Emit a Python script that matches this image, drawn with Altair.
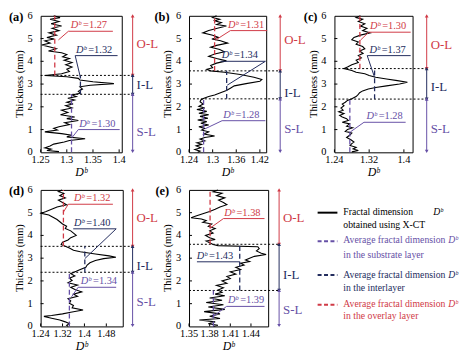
import altair as alt
import pandas as pd

FONT = "Liberation Serif"
RED = "#d03a46"
NAVY = "#232d5e"
PURPLE = "#6650a6"
LAYERS = ["O-L", "I-L", "S-L"]
Y_TICKS = [0, 1, 2, 3, 4, 5, 6]
Y_TICK_LABELS = ["0", "1", "2", "3", "4", "5", "6"]

# ---------------- panel (a) ----------------
A_T = [6.0,5.92,5.85,5.75,5.65,5.55,5.45,5.35,5.25,5.15,5.05,4.98,4.9,4.8,4.72,4.62,4.55,4.45,4.38,4.3,
       4.2,4.12,4.05,3.95,3.85,3.75,3.65,3.55,3.45,3.38,3.32,3.25,3.18,3.1,3.02,2.95,2.88,2.78,2.68,2.6,
       2.52,2.45,2.38,2.3,2.2,2.12,2.05,1.95,1.85,1.75,1.65,1.55,1.48,1.4,1.3,1.22,1.12,1.05,0.98,0.9,
       0.82,0.75,0.68,0.6,0.52,0.45,0.36,0.28,0.2,0.14,0.08,0.03]
A_D = [1.275,1.287,1.268,1.285,1.27,1.29,1.272,1.285,1.266,1.28,1.262,1.276,1.258,1.268,1.252,1.27,1.28,1.265,1.29,1.30,
       1.292,1.305,1.295,1.31,1.298,1.31,1.30,1.305,1.29,1.258,1.30,1.322,1.325,1.35,1.39,1.345,1.325,1.33,1.322,1.326,
       1.31,1.318,1.302,1.315,1.30,1.312,1.298,1.31,1.29,1.302,1.288,1.315,1.30,1.322,1.296,1.305,1.285,1.275,1.282,1.258,
       1.29,1.31,1.30,1.335,1.305,1.295,1.275,1.268,1.258,1.27,1.262,1.285]
A_TICKS = [1.25, 1.3, 1.35, 1.4]
A_TICK_LABELS = ["1.25", "1.3", "1.35", "1.4"]
A_BOUNDS = [3.38, 2.55]
A_MEANS = [1.277, 1.326, 1.309]
A_LAB_TEXT = ["=1.27", "=1.32", "=1.30"]
A_LAB_X = [1.331, 1.341, 1.347]
A_LAB_T = [5.32, 4.25, 1.00]
A_UL_X1 = [1.303, 1.316, 1.322]
A_UL_X2 = [1.388, 1.397, 1.401]
A_LEAD = [[1.303, 5.32, 1.284, 4.94], [1.316, 4.25, 1.326, 3.29], [1.322, 1.00, 1.309, 0.62]]
A_ZONE_T = [4.78, 2.95, 0.90]

# ---------------- panel (b) ----------------
B_T = [6.0,5.92,5.85,5.78,5.7,5.62,5.55,5.45,5.35,5.25,5.15,5.05,4.98,4.9,4.8,4.7,4.62,4.52,4.42,4.32,
       4.22,4.12,4.02,3.92,3.82,3.72,3.65,3.58,3.52,3.42,3.3,3.2,3.12,3.02,2.92,2.82,2.72,2.62,2.52,2.45,
       2.38,2.3,2.22,2.12,2.02,1.95,1.88,1.8,1.72,1.65,1.58,1.5,1.42,1.35,1.28,1.2,1.12,1.05,0.98,0.9,
       0.8,0.72,0.65,0.58,0.5,0.42,0.35,0.28,0.2,0.12,0.05,0.0]
B_D = [1.31,1.30,1.318,1.305,1.322,1.31,1.335,1.312,1.29,1.275,1.30,1.315,1.298,1.32,1.338,1.31,1.295,1.318,1.33,1.305,
       1.29,1.31,1.335,1.31,1.295,1.30,1.285,1.295,1.33,1.37,1.405,1.425,1.42,1.385,1.355,1.345,1.335,1.32,1.305,1.29,
       1.278,1.27,1.268,1.276,1.265,1.28,1.26,1.285,1.265,1.29,1.268,1.288,1.262,1.285,1.27,1.29,1.265,1.28,1.272,1.29,
       1.278,1.305,1.28,1.268,1.28,1.26,1.272,1.258,1.27,1.255,1.268,1.262]
B_TICKS = [1.24, 1.3, 1.36, 1.42]
B_TICK_LABELS = ["1.24", "1.3", "1.36", "1.42"]
B_BOUNDS = [3.58, 2.35]
B_MEANS = [1.305, 1.3356, 1.277]
B_LAB_TEXT = ["=1.31", "=1.34", "=1.28"]
B_LAB_X = [1.370, 1.354, 1.358]
B_LAB_T = [5.35, 4.00, 1.39]
B_UL_X1 = [1.345, 1.320, 1.324]
B_UL_X2 = [1.4385, 1.434, 1.434]
B_LEAD = [[1.345, 5.35, 1.307, 4.93], [1.434, 4.00, 1.337, 2.95], [1.324, 1.39, 1.2815, 1.04]]
B_ZONE_T = [4.93, 2.62, 1.04]

# ---------------- panel (c) ----------------
C_T = [6.0,5.92,5.85,5.75,5.65,5.55,5.45,5.35,5.25,5.15,5.05,4.95,4.85,4.75,4.65,4.55,4.45,4.35,4.25,4.15,
       4.05,3.95,3.85,3.75,3.68,3.6,3.52,3.45,3.38,3.3,3.22,3.15,3.08,3.0,2.92,2.85,2.78,2.7,2.62,2.55,
       2.45,2.35,2.28,2.2,2.12,2.05,1.95,1.85,1.78,1.7,1.62,1.55,1.48,1.4,1.32,1.25,1.15,1.08,1.0,0.92,
       0.85,0.75,0.65,0.55,0.45,0.38,0.3,0.22,0.15,0.08,0.02]
C_D = [1.30,1.29,1.305,1.295,1.31,1.30,1.315,1.305,1.322,1.30,1.285,1.28,1.295,1.29,1.305,1.31,1.298,1.306,1.295,1.302,
       1.29,1.295,1.28,1.27,1.262,1.28,1.29,1.31,1.32,1.335,1.36,1.385,1.408,1.39,1.36,1.335,1.318,1.305,1.298,1.295,
       1.29,1.28,1.27,1.265,1.258,1.262,1.255,1.26,1.25,1.262,1.252,1.258,1.268,1.272,1.258,1.275,1.268,1.282,1.27,1.265,
       1.28,1.275,1.268,1.278,1.285,1.28,1.276,1.29,1.283,1.295,1.28]
C_TICKS = [1.24, 1.32, 1.4]
C_TICK_LABELS = ["1.24", "1.32", "1.4"]
C_BOUNDS = [3.68, 2.34]
C_MEANS = [1.2986, 1.3325, 1.2755]
C_LAB_TEXT = ["=1.30", "=1.37", "=1.28"]
C_LAB_X = [1.350, 1.349, 1.342]
C_LAB_T = [5.28, 4.25, 1.32]
C_UL_X1 = [1.319, 1.3155, 1.308]
C_UL_X2 = [1.4156, 1.4156, 1.404]
C_LEAD = [[1.319, 5.28, 1.300, 4.93], [1.3155, 4.25, 1.3324, 3.30], [1.308, 1.32, 1.277, 0.90]]
C_ZONE_T = [4.71, 2.87, 1.04]

# ---------------- panel (d) ----------------
D_T = [6.0,5.92,5.85,5.75,5.65,5.55,5.45,5.35,5.25,5.15,5.05,4.97,4.9,4.8,4.7,4.6,4.5,4.4,4.3,4.2,
       4.1,4.0,3.9,3.8,3.7,3.6,3.52,3.45,3.35,3.28,3.18,3.1,3.04,2.98,2.9,2.8,2.7,2.6,2.5,2.42,
       2.32,2.22,2.12,2.02,1.92,1.82,1.72,1.62,1.52,1.42,1.32,1.22,1.12,1.02,0.92,0.82,0.72,0.62,0.55,0.48,
       0.44,0.36,0.28,0.2,0.12,0.05,0.0]
D_D = [1.318,1.305,1.325,1.31,1.33,1.305,1.32,1.335,1.30,1.28,1.26,1.242,1.27,1.285,1.30,1.31,1.32,1.335,1.33,1.35,
       1.36,1.37,1.35,1.34,1.32,1.315,1.33,1.345,1.36,1.385,1.44,1.49,1.515,1.47,1.44,1.42,1.41,1.405,1.385,1.37,
       1.35,1.365,1.345,1.355,1.34,1.375,1.35,1.365,1.39,1.36,1.375,1.34,1.35,1.345,1.36,1.355,1.395,1.35,1.32,1.28,
       1.252,1.28,1.31,1.33,1.345,1.335,1.34]
D_TICKS = [1.24, 1.32, 1.4, 1.48]
D_TICK_LABELS = ["1.24", "1.32", "1.4", "1.48"]
D_BOUNDS = [3.52, 2.38]
D_MEANS = [1.3232, 1.4014, 1.345]
D_LAB_TEXT = ["=1.32", "=1.40", "=1.34"]
D_LAB_X = [1.407, 1.407, 1.4315]
D_LAB_T = [5.37, 4.29, 1.72]
D_UL_X1 = [1.341, 1.359, 1.377]
D_UL_X2 = [1.504, 1.516, 1.516]
D_LEAD = [[1.341, 5.37, 1.323, 5.02], [1.516, 4.29, 1.4015, 2.98], [1.377, 1.72, 1.353, 1.30]]
D_ZONE_T = [4.77, 2.66, 1.09]

# ---------------- panel (e) ----------------
E_T = [6.0,5.92,5.85,5.75,5.65,5.55,5.45,5.35,5.25,5.15,5.05,4.95,4.85,4.78,4.72,4.65,4.58,4.5,4.4,4.3,
       4.2,4.1,4.0,3.9,3.82,3.75,3.68,3.6,3.55,3.5,3.42,3.32,3.22,3.16,3.08,3.0,2.92,2.85,2.78,2.7,
       2.6,2.5,2.4,2.3,2.2,2.1,2.0,1.9,1.8,1.7,1.6,1.5,1.42,1.35,1.25,1.15,1.05,0.95,0.85,0.75,
       0.65,0.55,0.45,0.35,0.28,0.2,0.12,0.05,0.0]
E_D = [1.392,1.385,1.398,1.39,1.402,1.393,1.40,1.405,1.395,1.388,1.38,1.37,1.36,1.353,1.368,1.375,1.37,1.383,1.378,1.388,
       1.38,1.385,1.374,1.38,1.388,1.375,1.38,1.385,1.392,1.45,1.452,1.448,1.455,1.462,1.445,1.438,1.432,1.438,1.425,1.43,
       1.418,1.425,1.41,1.418,1.405,1.41,1.398,1.405,1.39,1.40,1.392,1.398,1.388,1.402,1.38,1.398,1.375,1.40,1.378,1.402,
       1.372,1.395,1.38,1.395,1.365,1.388,1.378,1.392,1.385]
E_TICKS = [1.35, 1.38, 1.41, 1.44]
E_TICK_LABELS = ["1.35", "1.38", "1.41", "1.44"]
E_BOUNDS = [3.61, 1.58]
E_MEANS = [1.3806, 1.4237, 1.3854]
E_LAB_TEXT = ["=1.38", "=1.43", "=1.39"]
E_LAB_X = [1.419, 1.3792, 1.4243]
E_LAB_T = [4.74, 2.84, 0.88]
E_UL_X1 = [1.400, 1.3615, 1.4046]
E_UL_X2 = [1.4597, 1.4238, 1.4597]
E_LEAD = [[1.400, 4.74, 1.3806, 4.32], [1.4238, 2.84, 1.4238, 2.84], [1.4046, 0.88, 1.3855, 0.45]]
E_ZONE_T = [4.77, 2.28, 0.74]

# ---------------- legend ----------------
LEG_KEYS = ["X-CT", "S-L", "I-L", "O-L"]
LEG_LINE1 = ["Fractal dimension", "Average fractal dimension", "Average fractal dimension", "Average fractal dimension"]
LEG_LINE2 = ["obtained using X-CT", "in the substrate layer", "in the interlayer", "in the overlay layer"]
LEG_Y1 = [22, 51, 86, 115]
LEG_Y2 = [36, 66, 99, 128]
LEG_SAMPLE_Y = [23, 52, 86, 116]
LEG_D_X = [119, 134, 134, 134]

PANELS = [
    dict(letter="(a)", lx=-32, dom=[1.25, 1.405], w=82, h=138, arrow=1.4258, T=A_T, D=A_D, ticks=A_TICKS,
         tl=A_TICK_LABELS, bounds=A_BOUNDS, means=A_MEANS, lt=A_LAB_TEXT, lxq=A_LAB_X, ltq=A_LAB_T,
         u1=A_UL_X1, u2=A_UL_X2, lead=A_LEAD, zone=A_ZONE_T),
    dict(letter="(b)", lx=-35, dom=[1.24, 1.436], w=78, h=138, arrow=1.4716, T=B_T, D=B_D, ticks=B_TICKS,
         tl=B_TICK_LABELS, bounds=B_BOUNDS, means=B_MEANS, lt=B_LAB_TEXT, lxq=B_LAB_X, ltq=B_LAB_T,
         u1=B_UL_X1, u2=B_UL_X2, lead=B_LEAD, zone=B_ZONE_T),
    dict(letter="(c)", lx=-31, dom=[1.24, 1.42], w=79, h=138, arrow=1.4525, T=C_T, D=C_D, ticks=C_TICKS,
         tl=C_TICK_LABELS, bounds=C_BOUNDS, means=C_MEANS, lt=C_LAB_TEXT, lxq=C_LAB_X, ltq=C_LAB_T,
         u1=C_UL_X1, u2=C_UL_X2, lead=C_LEAD, zone=C_ZONE_T),
    dict(letter="(d)", lx=-32, dom=[1.24, 1.54], w=83, h=138, arrow=1.576, T=D_T, D=D_D, ticks=D_TICKS,
         tl=D_TICK_LABELS, bounds=D_BOUNDS, means=D_MEANS, lt=D_LAB_TEXT, lxq=D_LAB_X, ltq=D_LAB_T,
         u1=D_UL_X1, u2=D_UL_X2, lead=D_LEAD, zone=D_ZONE_T),
    dict(letter="(e)", lx=-34, dom=[1.35, 1.465], w=80, h=138, arrow=1.4809, T=E_T, D=E_D, ticks=E_TICKS,
         tl=E_TICK_LABELS, bounds=E_BOUNDS, means=E_MEANS, lt=E_LAB_TEXT, lxq=E_LAB_X, ltq=E_LAB_T,
         u1=E_UL_X1, u2=E_UL_X2, lead=E_LEAD, zone=E_ZONE_T),
]


def make_panel(P):
    W, H = P["w"], P["h"]
    xs = alt.Scale(domain=P["dom"], nice=False, zero=False)
    ys = alt.Scale(domain=[0, 6], nice=False, zero=False)
    X = alt.X("d:Q", scale=xs, axis=None)
    Y = alt.Y("t:Q", scale=ys, axis=None)
    C = alt.Color("layer:N", scale=alt.Scale(domain=LAYERS, range=[RED, NAVY, PURPLE]), legend=None)

    b1, b2 = P["bounds"]
    lo = [b1, b2, 0.0]
    hi = [6.0, b1, b2]

    curve_df = pd.DataFrame({"i": list(range(len(P["T"]))), "t": P["T"], "d": P["D"]})
    bound_df = pd.DataFrame({"t": P["bounds"], "d": [P["dom"][0]] * 2, "d2": [P["arrow"]] * 2})
    mean_df = pd.DataFrame({"layer": LAYERS, "d": P["means"], "t": lo, "t2": hi})
    lab_df = pd.DataFrame({"layer": LAYERS, "d": P["lxq"], "t": P["ltq"], "txt": P["lt"]})
    ul_df = pd.DataFrame({"layer": LAYERS, "d": P["u1"], "d2": P["u2"], "t": P["ltq"]})
    lead_df = pd.DataFrame({"layer": LAYERS, "d": [l[0] for l in P["lead"]], "t": [l[1] for l in P["lead"]],
                            "d2": [l[2] for l in P["lead"]], "t2": [l[3] for l in P["lead"]]})
    arrow_df = pd.DataFrame({"layer": LAYERS, "d": [P["arrow"]] * 3, "t": [max(v, 0.04) for v in lo], "t2": hi})
    zone_df = pd.DataFrame({"layer": LAYERS, "d": [P["arrow"]] * 3, "t": P["zone"]})
    xt_df = pd.DataFrame({"d": P["ticks"], "txt": P["tl"]})
    yt_df = pd.DataFrame({"t": Y_TICKS, "txt": Y_TICK_LABELS})
    yt_in = yt_df[(yt_df.t > 0) & (yt_df.t < 6)]
    one = pd.DataFrame({"txt": [P["letter"]]})

    txt = dict(font=FONT)
    layers = [
        alt.Chart(bound_df).mark_rule(color="black", strokeDash=[2, 2], strokeWidth=1).encode(x=X, x2="d2:Q", y=Y),
        alt.Chart(curve_df).mark_line(color="black", strokeWidth=1.1).encode(x=X, y=Y, order="i:Q"),
        alt.Chart(mean_df).mark_rule(strokeDash=[5, 3], strokeWidth=1.3).encode(x=X, y=Y, y2="t2:Q", color=C),
        alt.Chart(ul_df).mark_rule(strokeWidth=1).encode(x=X, x2="d2:Q", y=Y, color=C),
        alt.Chart(lead_df).mark_rule(strokeWidth=1).encode(x=X, y=Y, x2="d2:Q", y2="t2:Q", color=C),
        alt.Chart(lab_df).mark_text(align="left", baseline="alphabetic", dy=-3, fontSize=10.5, **txt).encode(
            x=X, y=Y, text="txt:N", color=C),
        alt.Chart(lab_df).mark_text(align="right", baseline="alphabetic", dx=-2, dy=-3, fontSize=10.5,
                                    fontStyle="italic", **txt).encode(x=X, y=Y, text=alt.value("Dᵇ"), color=C),
        alt.Chart(arrow_df).mark_rule(strokeWidth=1).encode(x=X, y=Y, y2="t2:Q", color=C),
        alt.Chart(arrow_df).mark_point(shape="triangle-down", filled=True, size=14, opacity=1).encode(
            x=X, y=Y, color=C),
        alt.Chart(arrow_df).mark_point(shape="triangle-up", filled=True, size=14, opacity=1).encode(
            x=X, y=alt.Y("t2:Q", scale=ys, axis=None), color=C),
        alt.Chart(zone_df).mark_text(align="left", baseline="middle", dx=4, fontSize=13, **txt).encode(
            x=X, y=Y, text="layer:N", color=C),
        # inward ticks
        alt.Chart(xt_df).mark_rule(color="black", strokeWidth=1).encode(x=X, y=alt.value(H), y2=alt.value(H - 3)),
        alt.Chart(yt_in).mark_rule(color="black", strokeWidth=1).encode(y=Y, x=alt.value(0), x2=alt.value(3)),
        # tick labels
        alt.Chart(xt_df).mark_text(align="center", baseline="top", fontSize=10.5, color="black", **txt).encode(
            x=X, y=alt.value(H + 3), text="txt:N"),
        alt.Chart(yt_df).mark_text(align="right", baseline="middle", fontSize=10.5, color="black", **txt).encode(
            y=Y, x=alt.value(-8), text="txt:N"),
        # axis titles
        alt.Chart(one).mark_text(align="center", baseline="middle", fontSize=12, fontStyle="italic",
                                 color="black", **txt).encode(
            x=alt.value(W / 2), y=alt.value(H + 20), text=alt.value("Dᵇ")),
        alt.Chart(one).mark_text(align="center", baseline="middle", fontSize=10.5, angle=270,
                                 color="black", **txt).encode(
            x=alt.value(-21), y=alt.value(H / 2), text=alt.value("Thickness (mm)")),
        # panel letter
        alt.Chart(one).mark_text(align="left", baseline="middle", fontSize=12.5, fontWeight="bold",
                                 color="black", **txt).encode(x=alt.value(P["lx"]), y=alt.value(1), text="txt:N"),
    ]
    return alt.layer(*layers).properties(width=W, height=H)


def make_legend():
    lx = alt.Scale(domain=[19, 150], nice=False, zero=False)
    ly = alt.Scale(domain=[0, 138], nice=False, zero=False, reverse=True)
    col = alt.Color("k:N", scale=alt.Scale(domain=LEG_KEYS, range=["black", PURPLE, NAVY, RED]), legend=None)
    X = alt.X("x:Q", scale=lx, axis=None)
    Y = alt.Y("y:Q", scale=ly, axis=None)
    samp = pd.DataFrame({"k": LEG_KEYS, "x": [2] * 4, "x2": [22] * 4, "y": LEG_SAMPLE_Y})
    t1 = pd.DataFrame({"k": LEG_KEYS, "x": [28] * 4, "y": LEG_Y1, "txt": LEG_LINE1})
    t2 = pd.DataFrame({"k": LEG_KEYS, "x": [28] * 4, "y": LEG_Y2, "txt": LEG_LINE2})
    td = pd.DataFrame({"k": LEG_KEYS, "x": LEG_D_X, "y": LEG_Y1})
    layers = [
        alt.Chart(samp).transform_filter(alt.datum.k == "X-CT").mark_rule(strokeWidth=2).encode(
            x=X, x2="x2:Q", y=Y, color=col),
        alt.Chart(samp).transform_filter(alt.datum.k != "X-CT").mark_rule(strokeWidth=2, strokeDash=[4, 2.5]).encode(
            x=X, x2="x2:Q", y=Y, color=col),
        alt.Chart(t1).mark_text(align="left", baseline="middle", fontSize=9.8, font=FONT).encode(
            x=X, y=Y, text="txt:N", color=col),
        alt.Chart(t2).mark_text(align="left", baseline="middle", fontSize=9.8, font=FONT).encode(
            x=X, y=Y, text="txt:N", color=col),
        alt.Chart(td).mark_text(align="left", baseline="middle", fontSize=9.8, font=FONT, fontStyle="italic").encode(
            x=X, y=Y, text=alt.value("Dᵇ"), color=col),
    ]
    return alt.layer(*layers).properties(width=131, height=138, view=alt.ViewBackground(stroke="transparent"))


charts = [make_panel(P) for P in PANELS] + [make_legend()]

chart = (
    alt.concat(*charts, columns=3, spacing={"row": 38, "column": 67}, bounds="flush")
    .resolve_scale(x="independent", y="independent", color="independent")
    .properties(padding={"left": 0, "top": 0, "right": 1, "bottom": 0})
    .configure_view(stroke="black", strokeWidth=1)
    .configure_text(font=FONT)
)

chart.save("out.html", embed_options={"renderer": "svg", "actions": False})
